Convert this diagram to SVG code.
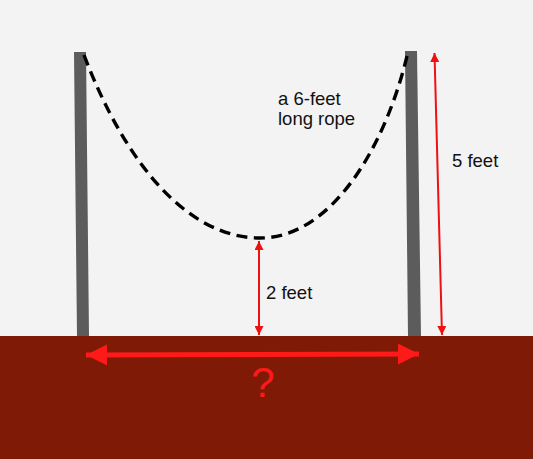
<svg xmlns="http://www.w3.org/2000/svg" width="533" height="459" viewBox="0 0 533 459">
<defs>
<style>
.lbl{font-family:"Liberation Sans",Arial,sans-serif;font-size:18.5px;fill:#111}
.pole{fill:#5c5c5c}
.dim{stroke:#ee1111;stroke-width:2;fill:none}
.rope{stroke:#000;stroke-width:3.4;fill:none;stroke-dasharray:11 6.5}
</style>
<marker id="ah" viewBox="0 0 10 10" refX="10" refY="5" markerWidth="12" markerHeight="9" markerUnits="userSpaceOnUse" orient="auto-start-reverse"><path d="M0,0 L10,5 L0,10 Z" fill="#ee1111"/></marker>
<marker id="bh" viewBox="0 0 10 10" refX="10" refY="5" markerWidth="26" markerHeight="21" markerUnits="userSpaceOnUse" orient="auto-start-reverse"><path d="M0,0 L10,5 L0,10 Z" fill="#ff1a1a"/></marker>
</defs>
<rect width="533" height="459" fill="#f3f3f3"/>
<g id="ground"><rect x="0" y="336" width="533" height="123" fill="#7e1a06"/></g>
<g id="left-pole"><polygon class="pole" points="74,52 86,52 89,336 77,336"/></g>
<g id="right-pole"><polygon class="pole" points="405,51 417,51 421,336 408,336"/></g>
<g id="connectors">
<path id="rope" class="rope" d="M84,55 C127,168 190,238 260,238 C330,238 385,150 408,52"/>
<line class="dim" x1="259" y1="241" x2="259" y2="335" marker-start="url(#ah)" marker-end="url(#ah)"/>
<line class="dim" x1="434.5" y1="53" x2="442" y2="335" marker-start="url(#ah)" marker-end="url(#ah)"/>
<line x1="86" y1="355" x2="419" y2="354" stroke="#ff1a1a" stroke-width="5" marker-start="url(#bh)" marker-end="url(#bh)"/>
</g>
<g id="labels">
<text class="lbl" x="278" y="105">a 6-feet</text>
<text class="lbl" x="278" y="125">long rope</text>
<text class="lbl" x="452" y="167">5 feet</text>
<text class="lbl" x="266" y="299">2 feet</text>
<text x="263" y="397" text-anchor="middle" font-family="Liberation Sans,Arial,sans-serif" font-size="42" fill="#ff1a1a">?</text>
</g>
</svg>
